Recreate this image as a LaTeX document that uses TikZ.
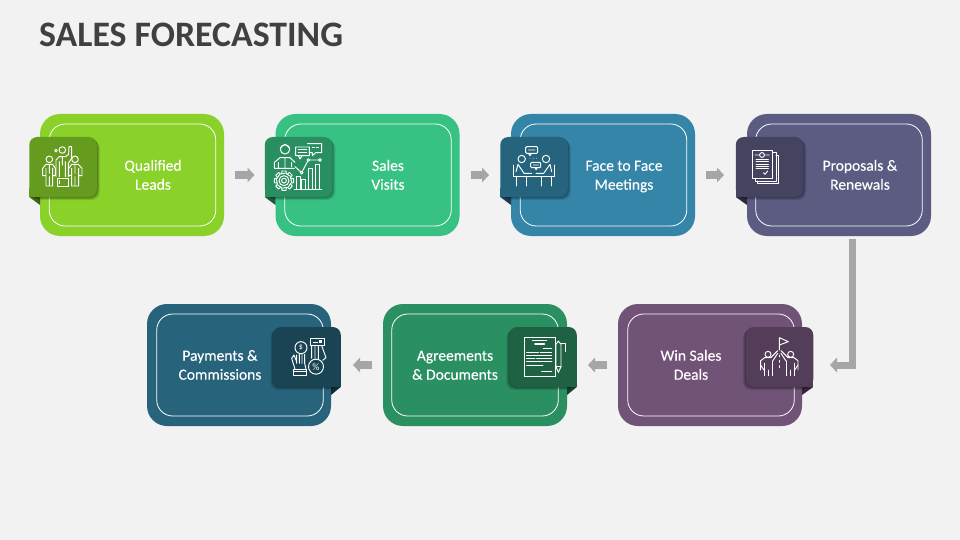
\documentclass[tikz,border=0pt]{standalone}
\usepackage{fontspec}
\setmainfont{Carlito}
\newfontfamily\cardfont{Carlito}[FakeBold=0.25]
\usetikzlibrary{arrows.meta}
\definecolor{bgc}{HTML}{F2F2F2}
\definecolor{titlec}{HTML}{404040}
\definecolor{arrc}{HTML}{A6A6A6}
\definecolor{c1}{HTML}{8AD129}\definecolor{b1}{HTML}{659B1F}\definecolor{f1}{HTML}{3F6114}
\definecolor{c2}{HTML}{37C182}\definecolor{b2}{HTML}{298F60}\definecolor{f2}{HTML}{1A5C3E}
\definecolor{c3}{HTML}{3485A7}\definecolor{b3}{HTML}{26637D}\definecolor{f3}{HTML}{183F50}
\definecolor{c4}{HTML}{5C5B82}\definecolor{b4}{HTML}{444360}\definecolor{f4}{HTML}{2B2B3E}
\definecolor{c5}{HTML}{705377}\definecolor{b5}{HTML}{533D58}\definecolor{f5}{HTML}{352738}
\definecolor{c6}{HTML}{2A8F61}\definecolor{b6}{HTML}{1E6243}\definecolor{f6}{HTML}{134029}
\definecolor{c7}{HTML}{27647C}\definecolor{b7}{HTML}{1A4454}\definecolor{f7}{HTML}{102C37}
\tikzset{
  x=1pt,y=-1pt,
  cardbox/.style={rounded corners=20pt,minimum width=184pt,minimum height=122pt,inner sep=0pt,outer sep=0pt},
  innerbox/.style={draw=white,line width=0.8pt,rounded corners=16pt,minimum width=166.5pt,minimum height=102pt,inner sep=0pt,outer sep=0pt},
  iconbox/.style={rounded corners=8pt,minimum width=67.5pt,minimum height=60pt,inner sep=0pt,outer sep=0pt},
  cardtext/.style={text=white,align=center,font=\cardfont\fontsize{15.5}{19}\selectfont,inner sep=0pt},
  arr/.style={draw=arrc,line width=8pt,-{Triangle[width=14.5pt,length=7pt]}},
  ico/.style={draw=white,line width=0.95pt,line join=round,line cap=round},
  zoomed/.style={x=0.33333pt,y=-0.33333pt},
}
\newcommand{\stepcard}[8]{% id, card cx, inner cx, text cx, box cx, cy, text, fold: L/R
  \node[cardbox,fill=c#1] (card#1) at (#2,#6) {};
  \node[innerbox] (inner#1) at (#3,#6) {};
  \node[cardtext] (label#1) at (#4,#6+1.4) {#7};
  \node[iconbox,yshift=8pt] (icon#1) at (#5,#6) {};
  \if#8L
    \fill[f#1] (icon#1.south west) -- (icon#1.south west -| card#1.west) -- ([yshift=-8pt]icon#1.south west -| card#1.west) -- cycle;
    \foreach \s/\o in {3/0.10,2/0.14,1/0.18}
      \fill[black,opacity=\o,rounded corners=8pt] ([xshift=\s pt,yshift=-\s pt]icon#1.south east) rectangle ([xshift=\s pt,yshift=-\s pt]icon#1.north west);
    \fill[b#1,rounded corners=8pt] (icon#1.south east) rectangle (icon#1.north west);
    \fill[b#1] (icon#1.south west) rectangle ([xshift=9pt,yshift=9pt]icon#1.south west);
  \else
    \fill[f#1] (icon#1.south east) -- (icon#1.south east -| card#1.east) -- ([yshift=-8pt]icon#1.south east -| card#1.east) -- cycle;
    \foreach \s/\o in {3/0.10,2/0.14,1/0.18}
      \fill[black,opacity=\o,rounded corners=8pt] ([xshift=-\s pt,yshift=-\s pt]icon#1.south east) rectangle ([xshift=-\s pt,yshift=-\s pt]icon#1.north west);
    \fill[b#1,rounded corners=8pt] (icon#1.south east) rectangle (icon#1.north west);
    \fill[b#1] (icon#1.south east) rectangle ([xshift=-9pt,yshift=9pt]icon#1.south east);
  \fi
}
\begin{document}
\begin{tikzpicture}
\useasboundingbox (0,0) rectangle (960,540);
\fill[bgc] (0,0) rectangle (960,540);
\node[anchor=west,inner sep=0pt,text=titlec,font=\fontsize{35.8}{40}\selectfont\bfseries] (title) at (39,35) {SALES FORECASTING};

\stepcard{1}{132}{132.5}{153}{63}{175}{Qualified\strut\\Leads\strut}{L}
\stepcard{2}{367.5}{368}{388}{298.5}{175}{Sales\strut\\Visits\strut}{L}
\stepcard{3}{603}{603.5}{624}{534}{175}{Face to Face\strut\\Meetings\strut}{L}
\stepcard{4}{839}{839}{860}{769.5}{175}{Proposals \&\strut\\Renewals\strut}{L}
\stepcard{5}{710}{711}{691}{779.5}{365}{Win Sales\strut\\Deals\strut}{R}
\stepcard{6}{475}{475}{455}{543}{365}{Agreements\strut\\\& Documents\strut}{R}
\stepcard{7}{239}{240}{220}{307}{365}{Payments \&\strut\\Commissions\strut}{R}

% connectors
\draw[arr,shorten <=11pt,shorten >=21pt] (card1.east) -- (card2.west);
\draw[arr,shorten <=11pt,shorten >=22pt] (card2.east) -- (card3.west);
\draw[arr,shorten <=11pt,shorten >=23pt] (card3.east) -- (card4.west);
\coordinate (bendstart) at ([xshift=13.7pt,yshift=-3pt]card4.south);
\draw[arr,line width=7pt,shorten >=28pt] (bendstart) |- (card5.east);
\draw[arr,shorten <=11pt,shorten >=21pt] (card5.west) -- (card6.east);
\draw[arr,shorten <=11pt,shorten >=22pt] (card6.west) -- (card7.east);

% icon 1
\begin{scope}[shift={(20,105)},zoomed,ico]
  \draw (88,163) circle (3.3pt);
  \draw (68,212) -- (68,190) -- (78,178) -- (98,178) -- (106,190) -- (106,212) -- (98,212) -- (98,190) (98,212) -- (98,243) -- (78,243) -- (78,190) (78,212) -- (68,212) (88,215) -- (88,243) (88,178) -- (88,205);
  \draw (165,163) circle (3.3pt);
  \draw (146,212) -- (146,190) -- (155,178) -- (175,178) -- (186,190) -- (186,212) -- (176,212) -- (176,190) (176,212) -- (176,243) -- (155,243) -- (155,190) (155,212) -- (146,212) (165,215) -- (165,243) (165,178) -- (165,205);
  \draw (127,135) circle (3.3pt);
  \draw (108,215) -- (108,165) -- (118,155) -- (136,155) -- (146,148) -- (147,125) -- (155,125) -- (155,160) -- (145,175) -- (145,215) (118,170) -- (118,215) (136,170) -- (136,215) (127,155) -- (127,180);
  \draw (108,137) circle (1.4pt);
  \draw (112,220) rectangle (146,243) (118,227) -- (118,236);
\end{scope}

% icon 2
\begin{scope}[shift={(255,105)},zoomed,ico]
  \draw (90,133) circle (4.7pt);
  \draw (76,128) -- (90,118) -- (104,128);
  \draw (58,190) -- (58,172) -- (75,158) -- (105,158) -- (120,172) (58,190) -- (118,190) (90,160) -- (90,190) (70,172) -- (70,190) (110,172) -- (110,185);
  \draw (122,126) rectangle (163,152) (130,152) -- (135,162) -- (142,152);
  \draw[line width=1.2pt] (130,134) -- (155,134) (130,143) -- (155,143);
  \draw (157,116) -- (200,116) -- (200,143) -- (182,143) -- (172,152) -- (172,143) -- (163,143);
  \draw (172,128) -- (178,128) (184,128) -- (190,128);
  \draw (120,185) -- (140,203) -- (160,165) -- (195,165);
  \foreach \p in {(140,203),(160,165),(195,165)} \draw[fill=b2] \p circle (1.4pt);
  \draw (87,227) circle (5pt) (87,227) circle (2.4pt);
  \foreach \a in {0,45,...,315}
    \draw[rotate around={\a:(87,227)}] (80,206) -- (81,198) -- (93,198) -- (94,206) -- (106,214);
  \draw (118,252) -- (200,252);
  \draw (125,252) -- (125,215) -- (137,215) -- (137,252);
  \draw (140,252) -- (140,222) -- (152,222) -- (152,252);
  \draw (160,252) -- (160,190) -- (172,190) -- (172,252);
  \draw (180,252) -- (180,178) -- (192,178) -- (192,252);
\end{scope}

% icon 3
\begin{scope}[shift={(490,105)},zoomed,ico]
  \draw[rounded corners=1pt] (107,125) rectangle (143,145);
  \draw (115,135) -- (135,135) (115,145) -- (120,152) -- (125,145);
  \foreach \q in {120,130,140} \fill[white] (\q,160) circle (0.4pt);
  \draw (95,162) circle (3.7pt) (168,162) circle (3.7pt);
  \draw[rounded corners=1pt] (122,172) rectangle (152,188);
  \draw (130,180) -- (145,180) (135,188) -- (138,194) -- (142,188);
  \draw (70,180) -- (70,215) -- (110,215) -- (110,243);
  \draw (78,243) -- (78,215);
  \draw (78,200) -- (84,178) -- (102,205) -- (125,205);
  \draw (192,180) -- (192,215) -- (153,215) -- (153,243);
  \draw (185,243) -- (185,215);
  \draw (185,200) -- (180,178) -- (161,205) -- (138,205);
  \draw (110,215) -- (153,215);
\end{scope}

% icon 4
\begin{scope}[shift={(725,105)},zoomed,ico]
  \draw (82,135) rectangle (143,220);
  \draw (143,143) -- (153,143) -- (153,228) -- (90,228) -- (90,220);
  \draw (153,152) -- (161,152) -- (161,236) -- (98,236) -- (98,228);
  \draw (111,150) circle (2.4pt) (90,150) -- (100,150) (122,150) -- (133,150);
  \foreach \q in {163,170,177,184,191} \draw (93,\q) -- (130,\q);
  \draw (115,203) -- (120,208) -- (128,198);
\end{scope}

% icon 5
\begin{scope}[shift={(610,295)},zoomed,ico]
  \draw (508,165) -- (508,128) -- (535,140) -- (508,150);
  \draw (508,180) -- (508,186) (508,196) -- (508,202) (508,212) -- (508,218);
  \draw (474,178) circle (3pt) (542,178) circle (3pt);
  \draw (452,225) -- (452,197) -- (464,188) -- (482,188) -- (503,167);
  \draw (564,225) -- (564,197) -- (552,188) -- (534,188) -- (513,167);
  \draw (452,210) -- (462,225) (564,210) -- (554,225);
  \draw (462,205) -- (462,242) (488,198) -- (488,242) (475,225) -- (475,242);
  \draw (554,205) -- (554,242) (528,198) -- (528,242) (541,225) -- (541,242);
  \draw (488,198) -- (503,175) (528,198) -- (513,175);
\end{scope}

% icon 6
\begin{scope}[shift={(375,295)},zoomed,ico]
  \draw[line width=1pt] (447,127) rectangle (540,243);
  \draw (472,137) -- (515,137) (505,160) -- (530,160) (455,172) -- (490,172) (495,172) -- (530,172) (455,180) -- (530,180) (455,190) -- (480,190) (485,190) -- (530,190) (500,229) -- (530,229);
  \draw[line width=1.6pt] (480,147) -- (508,147) (455,200) -- (530,200) (455,212) -- (503,212);
  \draw (543,215) -- (543,148) -- (550,138) -- (558,148) -- (558,215) -- (550,232) -- cycle;
  \draw (543,215) -- (558,215) (558,146) -- (570,146) -- (570,170);
\end{scope}

% icon 7
\begin{scope}[shift={(140,295)},zoomed,ico]
  \draw (483,158) circle (6pt);
  \node[text=white,inner sep=0pt,font=\fontsize{8}{8}\selectfont] (dollar) at (483,158) {\$};
  \draw (528,215) circle (7.5pt);
  \node[text=white,inner sep=0pt,font=\fontsize{10}{10}\selectfont] (percent) at (528,215) {\%};
  \draw (460,222) rectangle (498,240) (460,230) -- (498,230);
  \draw (465,222) -- (455,190) -- (462,180) -- (470,200) (470,205) -- (470,180) (478,178) -- (478,205) (486,178) -- (486,205) (494,178) -- (494,205) -- (498,222);
  \draw (511,130) rectangle (552,152) (520,141) -- (533,141);
  \fill[white] (538,136) rectangle (546,145);
  \draw (515,152) -- (515,190) (525,152) -- (525,190) (535,152) -- (535,192) (545,152) -- (558,188) -- (548,196);
\end{scope}
\end{tikzpicture}
\end{document}
